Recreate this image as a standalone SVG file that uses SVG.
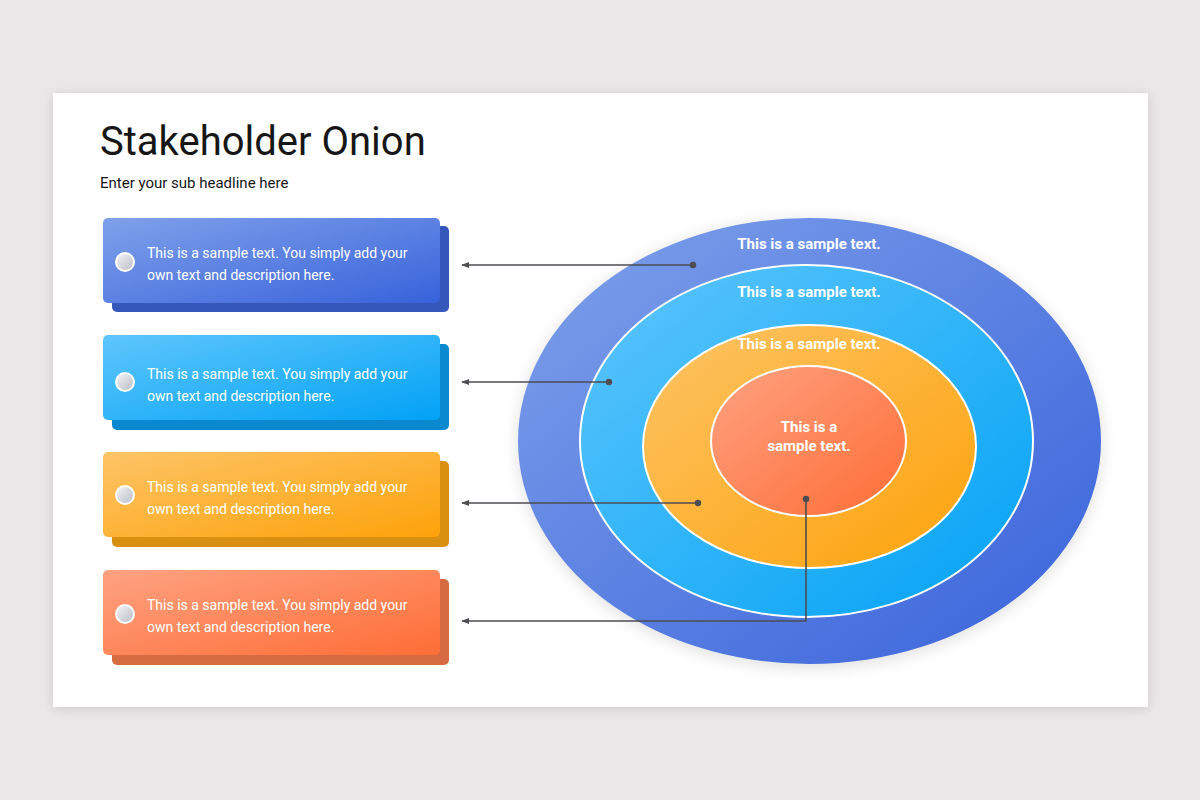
<svg xmlns="http://www.w3.org/2000/svg" width="1200" height="800" viewBox="0 0 1200 800">
<defs>
<linearGradient id="gBlue" x1="0" y1="0" x2="1" y2="1"><stop offset="0" stop-color="#7fa1ea"/><stop offset="1" stop-color="#3862db"/></linearGradient>
<linearGradient id="gSky" x1="0" y1="0" x2="1" y2="1"><stop offset="0" stop-color="#5ec6fc"/><stop offset="1" stop-color="#02a2f5"/></linearGradient>
<linearGradient id="gOrange" x1="0" y1="0" x2="1" y2="1"><stop offset="0" stop-color="#fdc466"/><stop offset="1" stop-color="#fda20a"/></linearGradient>
<linearGradient id="gCoral" x1="0" y1="0" x2="1" y2="1"><stop offset="0" stop-color="#fea282"/><stop offset="1" stop-color="#fe6d35"/></linearGradient>
<linearGradient id="gBtn" x1="0" y1="0" x2="1" y2="1"><stop offset="0" stop-color="#f4f4f6"/><stop offset="1" stop-color="#b9bcc6"/></linearGradient>
<filter id="shadow" x="-10%" y="-10%" width="120%" height="120%"><feGaussianBlur stdDeviation="6"/></filter>
<filter id="soft" x="-20%" y="-20%" width="140%" height="140%"><feGaussianBlur stdDeviation="8"/></filter>
<marker id="arr" viewBox="0 0 10 10" refX="9" refY="5" markerWidth="5" markerHeight="5" orient="auto"><path d="M0,1 L10,5 L0,9 Z" fill="#4d4d52"/></marker>
</defs>
<style>
.title{font-family:Roboto,"Liberation Sans",sans-serif;font-size:40px;fill:#161616}
.sub{font-family:Roboto,"Liberation Sans",sans-serif;font-size:15px;fill:#161616}
.bt{font-family:Roboto,"Liberation Sans",sans-serif;font-size:14px;fill:#ffffff}
.rl{font-family:Roboto,"Liberation Sans",sans-serif;font-size:15px;font-weight:bold;fill:#ffffff;text-anchor:middle}
.ring{stroke:#ffffff;stroke-width:2}
.conn{fill:none;stroke:#4d4d52;stroke-width:1.6}
.dot{fill:#4d4d52}
.btn{fill:url(#gBtn);stroke:#ffffff;stroke-width:2}
</style>
<rect x="0" y="0" width="1200" height="800" fill="#e9e7e8"/>
<rect x="53" y="95" width="1095" height="614" fill="#000" opacity="0.12" filter="url(#shadow)"/>
<rect x="53" y="93" width="1095" height="614" fill="#ffffff"/>
<text class="title" x="100" y="155">Stakeholder Onion</text>
<text class="sub" x="100" y="188">Enter your sub headline here</text>

<g id="box1">
<rect x="112" y="226" width="337" height="86" rx="5" fill="#3557ba"/>
<rect x="103" y="218" width="337" height="85" rx="5" fill="url(#gBlue)"/>
<circle class="btn" cx="125" cy="262" r="9"/>
<text class="bt" x="147" y="258">This is a sample text. You simply add your</text>
<text class="bt" x="147" y="280">own text and description here.</text>
</g>
<g id="box2">
<rect x="112" y="344" width="337" height="86" rx="5" fill="#0a88d0"/>
<rect x="103" y="335" width="337" height="85" rx="5" fill="url(#gSky)"/>
<circle class="btn" cx="125" cy="382" r="9"/>
<text class="bt" x="147" y="379">This is a sample text. You simply add your</text>
<text class="bt" x="147" y="401">own text and description here.</text>
</g>
<g id="box3">
<rect x="112" y="461" width="337" height="86" rx="5" fill="#d98f10"/>
<rect x="103" y="452" width="337" height="85" rx="5" fill="url(#gOrange)"/>
<circle class="btn" cx="125" cy="495" r="9"/>
<text class="bt" x="147" y="492">This is a sample text. You simply add your</text>
<text class="bt" x="147" y="514">own text and description here.</text>
</g>
<g id="box4">
<rect x="112" y="579" width="337" height="86" rx="5" fill="#d66a40"/>
<rect x="103" y="570" width="337" height="85" rx="5" fill="url(#gCoral)"/>
<circle class="btn" cx="125" cy="614" r="9"/>
<text class="bt" x="147" y="610">This is a sample text. You simply add your</text>
<text class="bt" x="147" y="632">own text and description here.</text>
</g>

<g id="onion">
<ellipse cx="809.5" cy="444" rx="292" ry="224" fill="#000" opacity="0.12" filter="url(#soft)"/>
<g id="ring1"><ellipse cx="809.5" cy="441" rx="291.5" ry="223" fill="url(#gBlue)"/>
<text class="rl" x="809" y="249">This is a sample text.</text></g>
<g id="ring2"><ellipse class="ring" cx="806.5" cy="441" rx="226.5" ry="176" fill="url(#gSky)"/>
<text class="rl" x="809" y="297">This is a sample text.</text></g>
<g id="ring3"><ellipse class="ring" cx="809.5" cy="446.5" rx="166.5" ry="121.5" fill="url(#gOrange)"/>
<text class="rl" x="809" y="349">This is a sample text.</text></g>
<g id="ring4"><ellipse class="ring" cx="808.5" cy="441" rx="97.5" ry="75" fill="url(#gCoral)"/>
<text class="rl" x="809" y="432">This is a</text>
<text class="rl" x="809" y="451">sample text.</text></g>
</g>

<g id="connectors">
<path class="conn" d="M693,265 H462" marker-end="url(#arr)"/>
<circle class="dot" cx="693" cy="265" r="3.2"/>
<path class="conn" d="M609,382 H462" marker-end="url(#arr)"/>
<circle class="dot" cx="609" cy="382" r="3.2"/>
<path class="conn" d="M698,503 H462" marker-end="url(#arr)"/>
<circle class="dot" cx="698" cy="503" r="3.2"/>
<path class="conn" d="M806,499 V621 H462" marker-end="url(#arr)"/>
<circle class="dot" cx="806" cy="499" r="3.2"/>
</g>
</svg>
